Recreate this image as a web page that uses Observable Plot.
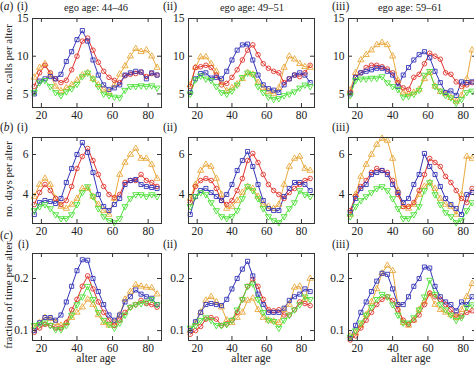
<!DOCTYPE html>
<html><head><meta charset="utf-8">
<script src="https://cdn.jsdelivr.net/npm/d3@7"></script>
<script src="https://cdn.jsdelivr.net/npm/@observablehq/plot@0.6"></script>
<style>
body{margin:0;background:#fff;}
#fig{position:relative;width:474px;height:366px;overflow:hidden;font-family:"Liberation Serif","Times New Roman",Times,"DejaVu Serif","Noto Serif",serif;color:#222;}
.lbl{position:absolute;white-space:nowrap;font-size:12px;line-height:1;transform:translateY(-50%);}
.ctr{position:absolute;white-space:nowrap;line-height:1;transform:translate(-50%,-50%);}
.plot{position:absolute;}
svg.titles{position:absolute;left:0;top:0;}
</style></head><body><div id="fig"></div>
<script>
const ages = [16,19,22,25,28,31,34,37,40,43,46,49,52,55,58,61,64,67,70,73,76,79,82,85];
const seriesNames = ["orange","red","blue","green"];
const seriesColors = ["#e9a83c","#e0352e","#3535b8","#4ee03a"];
const seriesSymbols = ["triangle","circle","square","triangle"];
const seriesRotate = [0,0,0,180];
const xTicks = [20,40,60,80];
const yTicksCalls = [5,10,15];
const yTicksDays = [4,6];
const yTicksTime = [0.1,0.2];
const egoTitles = ["ego age: 44–46","ego age: 49–51","ego age: 59–61"];
const rowTitles = ["no. calls per alter","no. days per alter","fraction of time per alter"];
const colTags = ["(i)","(ii)","(iii)"];

// row a: calls
const a1Orange = [7.2,8.5,9.0,7.5,6.0,5.4,5.8,6.2,6.8,7.5,7.8,7.0,6.2,5.6,5.2,6.2,7.6,8.7,10.0,11.0,10.6,10.8,10.0,8.5];
const a1Red    = [6.0,7.8,8.8,7.8,7.0,6.5,6.8,8.2,10.0,12.0,12.4,10.8,9.2,8.0,7.2,6.8,6.5,7.4,7.6,7.7,7.9,7.3,7.7,7.5];
const a1Blue   = [5.0,6.7,7.0,7.3,7.0,7.6,9.3,10.6,12.2,13.4,12.0,9.5,7.5,6.2,5.6,5.8,6.2,7.5,7.8,8.0,7.9,7.0,7.8,7.5];
const a1Green  = [5.2,6.5,6.8,6.0,5.2,4.8,5.3,5.7,6.3,7.3,7.8,7.0,6.0,5.0,4.8,4.6,4.5,5.5,6.0,6.0,6.1,6.0,6.1,5.8];
const a2Orange = [6.2,8.5,9.9,9.9,9.0,8.0,6.5,5.4,5.8,6.3,7.0,7.8,7.6,6.5,5.8,5.3,5.0,5.8,8.5,10.0,9.6,9.0,8.6,8.5];
const a2Red    = [6.0,8.5,8.6,8.8,8.5,7.5,6.2,6.4,7.2,8.2,9.5,10.8,11.5,10.2,9.0,8.4,8.0,7.8,6.5,7.0,7.5,7.3,7.8,8.8];
const a2Blue   = [5.2,7.0,7.7,7.8,7.1,7.2,7.0,8.0,9.5,10.8,11.5,11.6,9.5,7.5,6.2,5.7,5.5,5.2,6.2,7.0,7.5,7.8,7.5,6.5];
const a2Green  = [5.0,6.9,7.4,7.0,6.8,6.0,5.2,5.0,5.4,6.2,7.2,7.8,7.6,6.0,5.2,4.6,4.3,4.4,4.8,5.0,5.3,5.8,6.2,6.0];
const a3Orange = [5.5,7.8,9.5,10.2,10.8,11.5,11.8,11.5,10.0,6.8,5.2,5.0,5.2,5.6,7.0,7.8,6.0,5.3,5.0,4.5,4.0,4.8,7.0,10.8];
const a3Red    = [5.2,7.2,7.8,8.5,8.8,8.8,8.6,8.3,7.8,6.5,5.8,5.6,7.2,7.6,9.0,10.4,10.0,9.6,7.8,7.6,6.6,6.0,6.2,6.5];
const a3Blue   = [5.0,7.2,7.8,8.0,8.2,8.4,8.4,8.0,7.5,6.0,7.5,8.5,9.5,10.2,10.6,9.8,8.0,6.5,5.2,5.4,4.8,6.6,6.5,6.6];
const a3Green  = [4.8,6.8,7.0,7.0,7.1,7.1,7.3,6.5,6.0,5.6,4.6,4.7,5.0,5.5,7.5,8.0,6.0,5.4,4.8,4.5,3.8,4.3,5.2,5.4];
// row b: days
const b1Orange = [3.9,4.5,4.8,4.5,3.8,3.4,3.3,3.5,3.8,4.3,4.3,3.9,3.5,3.2,3.0,3.8,5.0,5.6,6.0,6.3,5.8,5.8,5.5,4.8];
const b1Red    = [3.5,4.1,4.5,4.2,3.8,3.5,3.7,4.4,5.3,5.9,6.3,5.7,5.0,4.4,4.0,3.85,4.0,4.6,4.7,4.7,5.0,4.7,4.6,4.4];
const b1Blue   = [3.0,3.6,3.7,3.65,3.55,3.8,4.6,5.3,6.0,6.6,6.1,5.1,4.0,3.4,3.2,3.5,3.8,4.5,4.7,4.75,4.5,4.4,4.35,4.3];
const b1Green  = [3.2,3.4,3.5,3.3,3.0,2.8,2.8,3.0,3.5,4.1,4.4,3.9,3.3,2.9,2.7,2.6,2.8,3.4,3.8,4.0,4.0,3.9,4.0,3.9];
const b2Orange = [3.8,4.5,5.2,5.5,5.4,4.8,4.0,3.3,3.4,3.7,4.1,4.4,4.3,3.9,3.5,3.4,3.3,3.5,4.5,5.4,5.8,5.9,5.3,5.2];
const b2Red    = [3.6,4.4,4.7,4.8,4.7,4.3,3.7,3.5,3.7,4.2,4.8,5.7,6.05,5.6,5.0,4.5,4.2,4.0,3.8,4.1,4.3,4.5,4.7,4.8];
const b2Blue   = [3.0,3.9,4.2,4.3,4.1,3.9,3.7,4.0,4.5,5.2,5.7,6.15,5.4,4.5,3.7,3.3,3.2,3.2,3.9,4.3,4.6,4.6,4.5,4.2];
const b2Green  = [3.4,3.9,4.1,4.0,3.6,3.2,2.9,2.8,2.9,3.2,3.8,4.4,4.2,3.8,3.3,2.9,2.7,2.6,2.9,3.3,3.6,4.2,4.0,3.9];
const b3Orange = [3.0,4.0,4.9,5.5,6.0,6.5,6.8,6.7,5.8,4.2,3.4,3.3,3.5,4.0,4.4,4.6,4.3,3.8,3.5,3.4,3.0,4.0,5.9,5.8];
const b3Red    = [3.2,3.9,4.4,4.7,5.1,5.3,5.2,5.1,4.7,4.0,3.4,3.4,3.6,4.2,5.0,5.8,5.6,5.4,4.9,4.6,4.2,3.8,3.6,4.3];
const b3Blue   = [3.1,3.8,4.3,4.5,5.0,5.1,5.2,5.0,4.5,4.1,3.6,3.8,4.5,5.0,6.05,5.4,5.0,4.4,3.8,3.5,3.3,3.0,4.0,4.1];
const b3Green  = [2.9,3.4,3.7,3.9,4.1,4.3,4.4,4.2,3.8,3.3,2.8,2.8,3.0,3.4,4.2,4.6,4.0,3.5,3.1,2.9,2.6,2.7,3.2,3.6];
// row c: fraction of time
const c1Orange = [0.108,0.115,0.125,0.123,0.115,0.110,0.115,0.125,0.135,0.145,0.160,0.150,0.130,0.115,0.110,0.115,0.130,0.160,0.175,0.188,0.185,0.183,0.182,0.170];
const c1Red    = [0.097,0.105,0.112,0.110,0.105,0.105,0.115,0.140,0.160,0.185,0.205,0.180,0.155,0.135,0.120,0.110,0.120,0.135,0.145,0.150,0.158,0.152,0.150,0.145];
const c1Blue   = [0.100,0.115,0.125,0.125,0.120,0.130,0.155,0.185,0.215,0.236,0.235,0.200,0.175,0.150,0.130,0.120,0.130,0.155,0.165,0.178,0.170,0.165,0.162,0.150];
const c1Green  = [0.110,0.112,0.115,0.110,0.102,0.102,0.110,0.130,0.150,0.165,0.185,0.160,0.135,0.120,0.112,0.105,0.115,0.130,0.145,0.150,0.152,0.155,0.160,0.150];
const c2Orange = [0.100,0.115,0.135,0.158,0.165,0.155,0.145,0.120,0.115,0.125,0.135,0.158,0.162,0.140,0.125,0.120,0.118,0.115,0.140,0.150,0.183,0.185,0.160,0.200];
const c2Red    = [0.093,0.100,0.108,0.122,0.125,0.122,0.110,0.113,0.120,0.135,0.160,0.185,0.198,0.185,0.160,0.140,0.138,0.140,0.130,0.130,0.140,0.155,0.152,0.148];
const c2Blue   = [0.100,0.117,0.135,0.150,0.152,0.150,0.148,0.160,0.180,0.200,0.218,0.233,0.205,0.170,0.150,0.135,0.135,0.135,0.143,0.158,0.165,0.170,0.180,0.175];
const c2Green  = [0.105,0.110,0.120,0.125,0.120,0.110,0.110,0.112,0.120,0.140,0.160,0.185,0.190,0.160,0.135,0.120,0.118,0.105,0.120,0.130,0.140,0.150,0.165,0.160];
const c3Orange = [0.090,0.095,0.110,0.130,0.155,0.180,0.210,0.225,0.215,0.150,0.115,0.110,0.120,0.140,0.155,0.170,0.150,0.140,0.135,0.130,0.125,0.140,0.165,0.190];
const c3Red    = [0.082,0.090,0.105,0.120,0.135,0.150,0.160,0.165,0.158,0.140,0.120,0.112,0.120,0.130,0.150,0.172,0.165,0.160,0.150,0.140,0.130,0.128,0.135,0.138];
const c3Blue   = [0.085,0.110,0.135,0.155,0.175,0.195,0.210,0.208,0.180,0.150,0.150,0.165,0.185,0.200,0.222,0.220,0.185,0.165,0.155,0.150,0.138,0.155,0.150,0.165];
const c3Green  = [0.088,0.100,0.115,0.130,0.145,0.160,0.170,0.165,0.150,0.130,0.115,0.115,0.125,0.140,0.165,0.197,0.170,0.150,0.140,0.130,0.120,0.125,0.145,0.150];

const panels = [
  [[a1Orange,a1Red,a1Blue,a1Green],[a2Orange,a2Red,a2Blue,a2Green],[a3Orange,a3Red,a3Blue,a3Green]],
  [[b1Orange,b1Red,b1Blue,b1Green],[b2Orange,b2Red,b2Blue,b2Green],[b3Orange,b3Red,b3Blue,b3Green]],
  [[c1Orange,c1Red,c1Blue,c1Green],[c2Orange,c2Red,c2Blue,c2Green],[c3Orange,c3Red,c3Blue,c3Green]]
];
const yDomains = [[3.2,15],[2.55,6.85],[0.081,0.248]];
const yTickSets = [yTicksCalls,yTicksDays,yTicksTime];
const xDomain = [15,87.5];

const FONT = "'Liberation Serif','Times New Roman',Times,'DejaVu Serif','Noto Serif',serif";
// layout (frame positions in px)
const colX = [32,188,348], colW = [129,126,128];
const rowY = [18,137,253], rowH = [89,86,87];

const fig = document.getElementById("fig");
const ml=30, mr=3, mt=9, mb=20;

for (let r=0;r<3;r++) for (let c=0;c<3;c++){
  const vals = panels[r][c];
  const data = [];
  seriesNames.forEach((s,k)=> ages.forEach((a,i)=> data.push({age:a, v: vals[k][i], s, col: seriesColors[k], sym: seriesSymbols[k], rot: seriesRotate[k]})));
  const fw = colW[c], fh = rowH[r];
  const yT = yTickSets[r];
  const tk = 4;
  const p = Plot.plot({
    width: fw+ml+mr, height: fh+mt+mb,
    marginLeft: ml, marginRight: mr, marginTop: mt, marginBottom: mb,
    style: {fontFamily: FONT, fontSize: "11.5px", color: "#222", background: "transparent", overflow: "visible"},
    x: {domain: xDomain, ticks: xTicks, tickSize: 0, tickPadding: 3, tickFormat: d=>String(d), label: null},
    y: {domain: yDomains[r], ticks: yT, tickSize: 0, tickPadding: 4, tickFormat: d=>String(d), label: null},
    marks: [
      Plot.line(data, {x:"age", y:"v", z:"s", stroke: d=>d.col, strokeWidth:1}),
      Plot.dot(data, {x:"age", y:"v", stroke: d=>d.col, symbol: d=>d.sym, rotate: d=>d.rot, r:2.3, fill:"none", strokeWidth:0.9}),
      Plot.tickX(xTicks, {x: d=>d, insetTop: fh-tk, stroke:"#333"}),
      Plot.tickX(xTicks, {x: d=>d, insetBottom: fh-tk, stroke:"#333"}),
      Plot.tickY(yT, {y: d=>d, insetRight: fw-tk, stroke:"#333"}),
      Plot.tickY(yT, {y: d=>d, insetLeft: fw-tk, stroke:"#333"}),
      Plot.frame({stroke:"#333", strokeWidth:1})
    ]
  });
  p.classList.add("plot");
  p.style.left = (colX[c]-ml)+"px";
  p.style.top = (rowY[r]-mt)+"px";
  fig.appendChild(p);
}

function addLabel(html, x, y, cls, size){
  const d = document.createElement("div");
  d.className = cls; d.innerHTML = html;
  d.style.left = x+"px"; d.style.top = y+"px";
  if (size) d.style.fontSize = size+"px";
  fig.appendChild(d);
}
// row letters and column tags
addLabel("(<i>a</i>)", 0, 6.5, "lbl", 11.5);
addLabel("(<i>b</i>)", 0, 128, "lbl", 11.5);
addLabel("(<i>c</i>)", 0, 236, "lbl", 11.5);
const tagX = [[17,163,332],[17,163,332],[18,163,332]];
const tagY = [6.5,128,245];
for (let r=0;r<3;r++) for (let c=0;c<3;c++) addLabel(colTags[c], tagX[r][c], tagY[r], "lbl", 11.5);
const titleX = [96,252,410];
egoTitles.forEach((t,c)=> addLabel(t, titleX[c], 8, "ctr", 10.5));
const alterX = [96,251,411];
alterX.forEach(x=> addLabel("alter age", x, 359, "ctr", 11.5));

// rotated row titles in an overlay svg
const ns = "http://www.w3.org/2000/svg";
const ov = document.createElementNS(ns, "svg");
ov.setAttribute("class","titles"); ov.setAttribute("width",20); ov.setAttribute("height",366);
const rowCY = [62,179,295];
rowTitles.forEach((t,r)=>{
  const tx = document.createElementNS(ns, "text");
  tx.setAttribute("transform", `translate(8,${rowCY[r]}) rotate(-90)`);
  tx.setAttribute("text-anchor","middle");
  tx.setAttribute("dy","0.35em");
  tx.setAttribute("font-size","11");
  tx.setAttribute("font-family", FONT);
  tx.setAttribute("fill","#222");
  tx.textContent = t;
  ov.appendChild(tx);
});
fig.appendChild(ov);
</script></body></html>
